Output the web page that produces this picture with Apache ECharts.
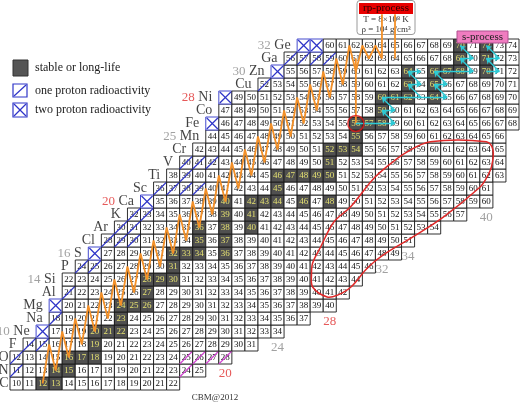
<!DOCTYPE html>
<html><head><meta charset="utf-8">
<script src="https://cdn.jsdelivr.net/npm/echarts@6/dist/echarts.min.js"></script>
<style>html,body{margin:0;padding:0;background:#fff}#c{width:520px;height:406px}</style>
</head><body><div id="c"></div>
<script>
// ---------- data ----------
const elements = ['C','N','O','F','Ne','Na','Mg','Al','Si','P','S','Cl','Ar','K','Ca','Sc','Ti','V','Cr','Mn','Fe','Co','Ni','Cu','Zn','Ga','Ge'];
const zNumbers = [6,7,8,9,10,11,12,13,14,15,16,17,18,19,20,21,22,23,24,25,26,27,28,29,30,31,32];
const aMin = [10,11,12,14,16,18,19,21,22,24,26,28,30,32,34,36,38,40,42,44,45,47,48,52,54,56,58];
const aMax = [22,25,28,31,34,37,40,42,44,46,49,51,54,57,60,61,63,64,65,66,68,69,70,71,72,73,74];
const stableA = [[12,13],[14,15],[16,17,18],[19],[20,21,22],[23],[24,25,26],[27],[28,29,30],[31],[32,33,34,36],[35,37],[36,38,40],[39,41],[40,42,43,44,46,48],[45],[46,47,48,49,50],[51],[52,53,54],[55],[56,57,58],[59],[60,61,62,64],[63,65],[64,66,67,68,70],[69,71],[70,72]];
const oneProtonA = [[],[11],[12],[14,15],[],[18],[],[21],[],[24,25],[],[28,29,30],[30,31],[32,33],[],[36,37,38,39],[39],[40,41,42],[],[],[],[],[],[52],[],[56,57,58,59],[]];
const twoProtonA = [[],[],[],[],[16],[],[19],[],[],[],[26],[],[],[],[34],[],[],[],[],[],[45],[],[48],[],[54],[],[58,59]];
const neutronMarkA = [[],[24],[25,26,27,28],[],[],[],[],[],[],[],[],[],[],[],[],[],[],[],[],[],[],[],[],[],[],[],[]];
const zTickLabels = [10,14,16,20,25,28,30,32];
const nTickLabels = [8,14,16,20,24,28,32,34,40];
const magicNumbers = [8,20,28];
// rp-process path, nodes as [N, Z]
const rpPath = [[6,6],[6.5,9],[7,7],[7.5,10],[8,8],[8.5,11],[9,9],[9.5,12],[10,10],[10.5,13],[11,11],[11.5,14],[12,12],[12.5,15],[13,13],[13.5,16],[14,14],[14.5,17],[15,15],[15.5,18],[16,16],[16.5,19],[17,17],[17.5,20],[18,18],[18.5,21],[19,19],[19.5,22],[20,20],[20.5,23],[21,21],[21.5,24],[22,22],[22.5,25],[23,23],[23.5,26],[24,24],[24.5,27],[25,25],[25.5,28],[26,26],[26.5,29],[27,27],[27.5,30],[28,28],[28.5,31],[29,29],[29.5,32],[30,30],[30.5,32],[31,31],[31.5,32],[32,31],[32,34.4]];
const rpBranch1 = [[30,26],[30,31]];
const rpBranch2 = [[33,31],[33,34.4]];
const seedNuclide = [[30,26]];
// s-process segments, [from, to] as [N, Z]
const sProcess = [
 [[30,26],[33,26]],[[33,26],[32,27]],[[32,27],[33,27]],[[33,27],[32,28]],
 [[32,28],[37,28]],[[35,28],[34,29]],[[34,29],[35,29]],[[35,29],[34,30]],
 [[34,30],[35,30]],[[37,28],[36,29]],[[36,29],[37,29]],[[37,29],[36,30]],
 [[36,30],[39,30]],[[39,30],[38,31]],[[38,31],[39,31]],[[39,31],[38,32]],
 [[40,30],[41,30]],[[41,30],[40,31]],[[40,31],[41,31]],[[41,31],[40,32]]
];
// outline of the red loop, as [N, Z]
const loopOutline = [[26.7,15.3],[27.3,16.5],[28.3,18.4],[29.6,19.6],[31.3,21.7],[32.4,22.7],[33.9,23.8],[35.7,24.6],[40.0,24.6],[40.5,24.0],[40.4,22.7],[40.0,21.8],[39.5,21.1],[36.7,18.8],[34.4,17.3],[32.1,15.9],[30.9,14.9],[29.6,13.4],[28.6,12.8],[27.8,12.65],[26.7,13.4],[26.6,14.4]];

// ---------- build ----------
const FONT = '"Liberation Serif","Times New Roman",serif';
const cells = [];
elements.forEach((el, i) => {
  const Z = zNumbers[i];
  for (let A = aMin[i]; A <= aMax[i]; A++) {
    let t = 0;
    if (stableA[i].includes(A)) t = 1;
    if (neutronMarkA[i].includes(A)) t = 4;
    if (oneProtonA[i].includes(A)) t = 2;
    if (twoProtonA[i].includes(A)) t = 3;
    cells.push([A - Z, Z, A, t]);
  }
});
const elemLabels = elements.map((el, i) => ({
  name: el, value: [aMin[i] - zNumbers[i] - 0.5, zNumbers[i]],
  label: { distance: i < 3 ? 1 : 6 }
}));
function colBottom(N) {
  let b = 99;
  elements.forEach((el, i) => {
    const Z = zNumbers[i];
    if (N >= aMin[i] - Z && N <= aMax[i] - Z) b = Math.min(b, Z);
  });
  return b;
}
const nLabels = nTickLabels.map(n => ({ name: String(n), value: [n, colBottom(n) - 1.2] }));

const chart = echarts.init(document.getElementById('c'));
const BLUE = '#2f35c8';
const ORANGE = '#f39028';
chart.setOption({
  animation: false,
  backgroundColor: '#fff',
  grid: { left: 10, right: 1, top: 0, bottom: 16 },
  xAxis: { type: 'value', min: 3.5, max: 42.5, show: false },
  yAxis: { type: 'value', min: 5.5, max: 35.5, show: false },
  series: [
    {
      type: 'custom', z: 2, data: cells, encode: { x: 0, y: 1 },
      renderItem: (params, api) => {
        const N = api.value(0), Z = api.value(1), A = api.value(2), t = api.value(3);
        const p0 = api.coord([N - 0.5, Z + 0.5]);
        const p1 = api.coord([N + 0.5, Z - 0.5]);
        const x = p0[0], y = p0[1], w = p1[0] - p0[0], h = p1[1] - p0[1];
        const ch = [{ type: 'rect', shape: { x: x, y: y, width: w, height: h },
          style: { fill: t === 1 ? '#505050' : '#fff', stroke: t === 3 ? BLUE : '#1a1a1a', lineWidth: 0.9 } }];
        if (t !== 3) ch.push({ type: 'text', style: { text: String(A), x: x + w / 2, y: y + h / 2 + 0.5,
          align: 'center', verticalAlign: 'middle', font: '9px ' + FONT, fill: t === 1 ? '#e4e070' : '#111' } });
        if (t === 2 || t === 4) ch.push({ type: 'line', shape: { x1: x, y1: y + h, x2: x + w, y2: y },
          style: { stroke: t === 2 ? BLUE : '#d040d0', lineWidth: 1.1 } });
        if (t === 3) {
          ch.push({ type: 'line', shape: { x1: x + 1, y1: y + h - 1, x2: x + w - 1, y2: y + 1 }, style: { stroke: BLUE, lineWidth: 1.2 } });
          ch.push({ type: 'line', shape: { x1: x + 1, y1: y + 1, x2: x + w - 1, y2: y + h - 1 }, style: { stroke: BLUE, lineWidth: 1.2 } });
        }
        return { type: 'group', children: ch };
      }
    },
    {
      type: 'custom', z: 5, data: [[33, 19]], encode: { x: 0, y: 1 },
      renderItem: (params, api) => ({ type: 'polygon',
        shape: { points: loopOutline.map(p => api.coord(p)), smooth: 0.35 },
        style: { fill: 'none', stroke: '#e02828', lineWidth: 1.5 } })
    },
    { type: 'line', z: 6, data: rpPath, showSymbol: false, symbol: 'none',
      lineStyle: { color: ORANGE, width: 1.8 } },
    { type: 'line', z: 6, data: rpBranch1, showSymbol: false, symbol: 'none',
      lineStyle: { color: ORANGE, width: 1.8 } },
    { type: 'line', z: 6, data: rpBranch2, showSymbol: false, symbol: 'none',
      lineStyle: { color: ORANGE, width: 1.8 } },
    { type: 'lines', coordinateSystem: 'cartesian2d', z: 7,
      data: sProcess.map(s => ({ coords: s })),
      symbol: ['none', 'arrow'], symbolSize: 5,
      lineStyle: { color: '#2ccad6', width: 1.4, opacity: 1, curveness: 0 } },
    { type: 'scatter', z: 8, data: seedNuclide, symbol: 'circle', symbolSize: 16,
      itemStyle: { color: 'rgba(0,0,0,0)', borderColor: '#e01818', borderWidth: 1.6 } },
    { type: 'scatter', z: 9, data: elemLabels, symbolSize: 1,
      itemStyle: { color: 'rgba(0,0,0,0)' },
      label: { show: true, position: 'left',
        formatter: p => {
          const Z = p.data.value[1];
          if (zTickLabels.includes(Z)) {
            const k = magicNumbers.includes(Z) ? 'r' : 'g';
            return '{' + k + '|' + Z + '}{e| ' + p.name + '}';
          }
          return '{e|' + p.name + '}';
        },
        rich: {
          e: { fontFamily: FONT, fontSize: 14, color: '#111' },
          g: { fontFamily: FONT, fontSize: 13, color: '#8a8a8a' },
          r: { fontFamily: FONT, fontSize: 13, color: '#e03030' }
        } } },
    { type: 'scatter', z: 9, data: nLabels, symbolSize: 1,
      itemStyle: { color: 'rgba(0,0,0,0)' },
      label: { show: true, position: 'inside',
        formatter: p => '{' + (magicNumbers.includes(+p.name) ? 'r' : 'g') + '|' + p.name + '}',
        rich: {
          g: { fontFamily: FONT, fontSize: 13, color: '#8a8a8a' },
          r: { fontFamily: FONT, fontSize: 13, color: '#e03030' }
        } } }
  ],
  graphic: [
    // legend
    { type: 'rect', z: 20, shape: { x: 13, y: 60, width: 15, height: 16 }, style: { fill: '#555', stroke: '#333', lineWidth: 1 } },
    { type: 'text', z: 20, style: { text: 'stable or long-life', x: 35, y: 68, verticalAlign: 'middle', font: '12px ' + FONT, fill: '#222' } },
    { type: 'rect', z: 20, shape: { x: 13, y: 84, width: 14, height: 13 }, style: { fill: '#fff', stroke: BLUE, lineWidth: 1.2 } },
    { type: 'line', z: 20, shape: { x1: 14, y1: 96, x2: 26, y2: 85 }, style: { stroke: BLUE, lineWidth: 1.2 } },
    { type: 'text', z: 20, style: { text: 'one proton radioactivity', x: 35, y: 91, verticalAlign: 'middle', font: '12px ' + FONT, fill: '#222' } },
    { type: 'rect', z: 20, shape: { x: 13, y: 103, width: 14, height: 14 }, style: { fill: '#fff', stroke: BLUE, lineWidth: 1.2 } },
    { type: 'line', z: 20, shape: { x1: 14, y1: 116, x2: 26, y2: 104 }, style: { stroke: BLUE, lineWidth: 1.2 } },
    { type: 'line', z: 20, shape: { x1: 14, y1: 104, x2: 26, y2: 116 }, style: { stroke: BLUE, lineWidth: 1.2 } },
    { type: 'text', z: 20, style: { text: 'two proton radioactivity', x: 35, y: 110, verticalAlign: 'middle', font: '12px ' + FONT, fill: '#222' } },
    // rp-process box
    { type: 'rect', z: 0, shape: { x: 357, y: 0.5, width: 58, height: 34, r: 3 }, style: { fill: '#fff', stroke: '#9a9a9a', lineWidth: 1 } },
    { type: 'rect', z: 0, shape: { x: 359, y: 3, width: 54, height: 11 }, style: { fill: '#e80000' } },
    { type: 'text', z: 0, style: { text: 'rp-process', x: 386, y: 8.5, align: 'center', verticalAlign: 'middle', font: '11px ' + FONT, fill: '#2a0000' } },
    { type: 'text', z: 0, style: { text: 'T = 8×10⁸ K', x: 386, y: 20, align: 'center', verticalAlign: 'middle', font: '9px ' + FONT, fill: '#333' } },
    { type: 'text', z: 0, style: { text: 'ρ = 10⁴ g/cm³', x: 386, y: 29.5, align: 'center', verticalAlign: 'middle', font: '9px ' + FONT, fill: '#333' } },
    // s-process box
    { type: 'rect', z: 30, shape: { x: 457, y: 31, width: 51, height: 12 }, style: { fill: '#f07cc0', stroke: '#b05090', lineWidth: 1 } },
    { type: 'text', z: 30, style: { text: 's-process', x: 482.5, y: 37, align: 'center', verticalAlign: 'middle', font: '11px ' + FONT, fill: '#222' } },
    // credit
    { type: 'text', z: 20, style: { text: 'CBM@2012', x: 215, y: 398, align: 'center', verticalAlign: 'middle', font: '9px ' + FONT, fill: '#333' } }
  ]
});
</script></body></html>
